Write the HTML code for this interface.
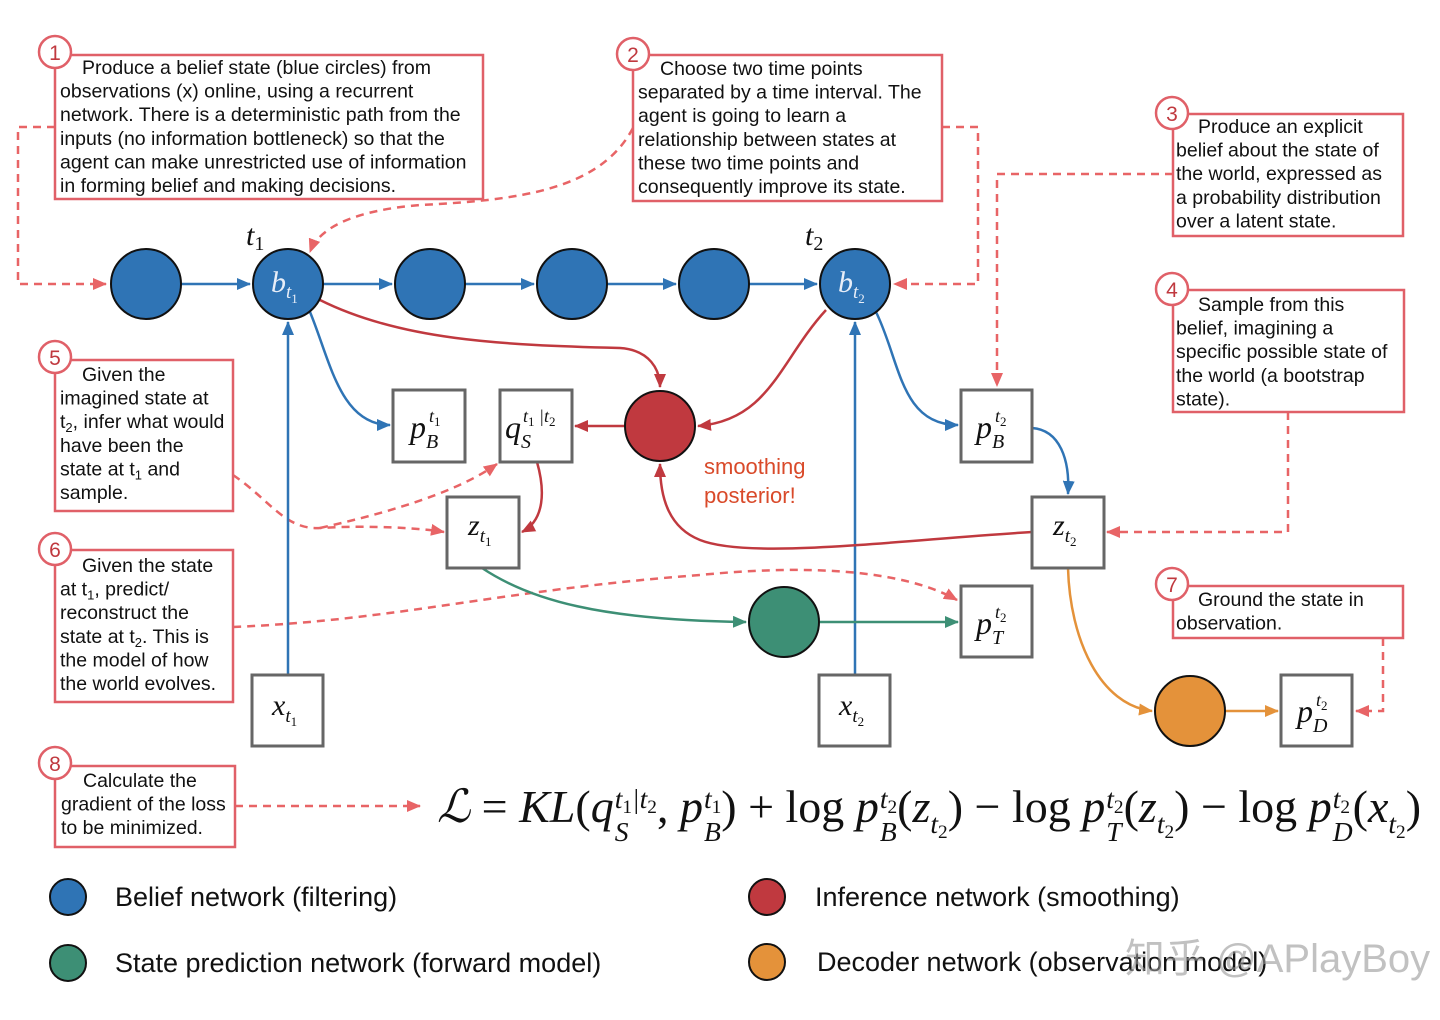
<!DOCTYPE html>
<html><head><meta charset="utf-8"><style>
html,body{margin:0;padding:0;background:#fff;}
#wrap{position:relative;width:1440px;height:1020px;overflow:hidden;background:#fff;}
svg{position:absolute;left:0;top:0;}
.m{position:absolute;font-family:"Liberation Serif",serif;color:#111;white-space:nowrap;line-height:1;}
.i{font-style:italic;}
.ss{display:inline-block;vertical-align:-0.42em;line-height:1.05;text-align:left;font-style:italic;margin-left:1px;}
.ss > span{display:block;font-size:0.6em;}
.sb{font-style:italic;font-size:0.6em;vertical-align:-0.4em;}
.n{display:inline;font-style:normal;font-size:0.7em;vertical-align:-0.25em;}
</style></head><body><div id="wrap">
<svg width="1440" height="1020" viewBox="0 0 1440 1020">
<defs>
<marker id="ar" markerWidth="14" markerHeight="12" refX="13" refY="6" orient="auto" markerUnits="userSpaceOnUse"><path d="M0,0 L14,6 L0,12 z" fill="#c0393f"/></marker>
<marker id="ad" markerWidth="14" markerHeight="12" refX="13" refY="6" orient="auto" markerUnits="userSpaceOnUse"><path d="M0,0 L14,6 L0,12 z" fill="#e86466"/></marker>
<marker id="ag" markerWidth="14" markerHeight="12" refX="13" refY="6" orient="auto" markerUnits="userSpaceOnUse"><path d="M0,0 L14,6 L0,12 z" fill="#3d8f75"/></marker>
<marker id="ao" markerWidth="14" markerHeight="12" refX="13" refY="6" orient="auto" markerUnits="userSpaceOnUse"><path d="M0,0 L14,6 L0,12 z" fill="#e4923a"/></marker>
<marker id="ab2" markerWidth="14" markerHeight="12" refX="13" refY="6" orient="auto" markerUnits="userSpaceOnUse"><path d="M0,0 L14,6 L0,12 z" fill="#2f74b5"/></marker>
</defs>
<g fill="none" stroke-width="2.5">
<g stroke="#e86466" stroke-dasharray="8,6">
<path d="M55,127 H18 V284 H106" marker-end="url(#ad)"/>
<path d="M633,128 C600,190 520,200 420,205 C360,210 320,225 310,252" marker-end="url(#ad)"/>
<path d="M942,127 H978 V284 H894" marker-end="url(#ad)"/>
<path d="M1173,174 H997 V386" marker-end="url(#ad)"/>
<path d="M1288,412 V532 H1107" marker-end="url(#ad)"/>
<path d="M233,475 C270,500 285,530 320,528 C370,525 420,528 444,532" marker-end="url(#ad)"/>
<path d="M320,528 C400,510 460,490 497,464" marker-end="url(#ad)"/>
<path d="M233,627 C400,620 500,590 700,575 C800,565 900,568 957,600" marker-end="url(#ad)"/>
<path d="M1383,638 V711 H1356" marker-end="url(#ad)"/>
<path d="M235,806 H420" marker-end="url(#ad)"/>
</g>
<g stroke="#2f74b5">
<path d="M181,284 H250" marker-end="url(#ab2)"/>
<path d="M323,284 H392" marker-end="url(#ab2)"/>
<path d="M465,284 H534" marker-end="url(#ab2)"/>
<path d="M607,284 H676" marker-end="url(#ab2)"/>
<path d="M749,284 H817" marker-end="url(#ab2)"/>
<path d="M288,675 V322" marker-end="url(#ab2)"/>
<path d="M855,675 V322" marker-end="url(#ab2)"/>
<path d="M310,312 C330,360 340,425 390,425" marker-end="url(#ab2)"/>
<path d="M876,312 C900,360 900,425 958,425" marker-end="url(#ab2)"/>
<path d="M1032,428 C1060,430 1070,460 1068,494" marker-end="url(#ab2)"/>
</g>
<g stroke="#c0393f">
<path d="M320,300 C400,340 500,345 620,348 C650,350 660,370 660,387" marker-end="url(#ar)"/>
<path d="M826,310 C780,360 770,420 698,426" marker-end="url(#ar)"/>
<path d="M625,426 H575" marker-end="url(#ar)"/>
<path d="M537,462 C545,490 545,520 522,532" marker-end="url(#ar)"/>
<path d="M1032,532 C900,540 750,560 700,540 C670,528 660,500 660,464" marker-end="url(#ar)"/>
</g>
<path d="M482,568 C530,600 600,620 746,622" stroke="#3d8f75" marker-end="url(#ag)"/>
<path d="M820,622 H958" stroke="#3d8f75" marker-end="url(#ag)"/>
<path d="M1068,568 C1070,640 1100,705 1152,711" stroke="#e4923a" marker-end="url(#ao)"/>
<path d="M1226,711 H1278" stroke="#e4923a" marker-end="url(#ao)"/>
</g>
<g stroke="#111" stroke-width="2">
<circle cx="146" cy="284" r="35" fill="#2f74b5"/>
<circle cx="288" cy="284" r="35" fill="#2f74b5"/>
<circle cx="430" cy="284" r="35" fill="#2f74b5"/>
<circle cx="572" cy="284" r="35" fill="#2f74b5"/>
<circle cx="714" cy="284" r="35" fill="#2f74b5"/>
<circle cx="855" cy="284" r="35" fill="#2f74b5"/>
<circle cx="660" cy="426" r="35" fill="#c0393f"/>
<circle cx="784" cy="622" r="35" fill="#3d8f75"/>
<circle cx="1190" cy="711" r="35" fill="#e4923a"/>
<circle cx="68" cy="897" r="18" fill="#2f74b5"/>
<circle cx="68" cy="963" r="18" fill="#3d8f75"/>
<circle cx="767" cy="897" r="18" fill="#c0393f"/>
<circle cx="767" cy="962" r="18" fill="#e4923a"/>
</g>
<g fill="#fff" stroke="#666" stroke-width="3">
<rect x="393" y="390" width="72" height="72"/>
<rect x="500" y="390" width="72" height="72"/>
<rect x="447" y="497" width="72" height="71"/>
<rect x="961" y="390" width="71" height="72"/>
<rect x="1032" y="497" width="72" height="71"/>
<rect x="961" y="586" width="71" height="71"/>
<rect x="252" y="675" width="71" height="71"/>
<rect x="819" y="675" width="71" height="71"/>
<rect x="1281" y="675" width="71" height="71"/>
</g>
<g fill="#fff" stroke="#e06068" stroke-width="2.5">
<rect x="55" y="55" width="428" height="144"/>
<rect x="633" y="55" width="309" height="146"/>
<rect x="1173" y="114" width="230" height="122"/>
<rect x="1173" y="290" width="231" height="122"/>
<rect x="55" y="360" width="178" height="151"/>
<rect x="55" y="550" width="178" height="152"/>
<rect x="1173" y="586" width="230" height="52"/>
<rect x="55" y="766" width="180" height="81"/>
<circle cx="55" cy="52" r="16"/><circle cx="633" cy="54" r="16"/><circle cx="1172" cy="113" r="16"/>
<circle cx="1172" cy="289" r="16"/><circle cx="55" cy="357" r="16"/><circle cx="55" cy="549" r="16"/>
<circle cx="1172" cy="584" r="16"/><circle cx="55" cy="763" r="16"/>
</g>
<g font-family="Liberation Sans,sans-serif" font-size="21" fill="#c0393f" text-anchor="middle">
<text x="55" y="60">1</text><text x="633" y="62">2</text><text x="1172" y="121">3</text><text x="1172" y="297">4</text>
<text x="55" y="365">5</text><text x="55" y="557">6</text><text x="1172" y="592">7</text><text x="55" y="771">8</text>
</g>
<g font-family="Liberation Sans,sans-serif" font-size="19.5" fill="#111">
<text x="60" y="74"><tspan x="82">Produce a belief state (blue circles) from</tspan><tspan x="60" dy="23.6">observations (x) online, using a recurrent</tspan><tspan x="60" dy="23.6">network. There is a deterministic path from the</tspan><tspan x="60" dy="23.6">inputs (no information bottleneck) so that the</tspan><tspan x="60" dy="23.6">agent can make unrestricted use of information</tspan><tspan x="60" dy="23.6">in forming belief and making decisions.</tspan></text>
<text y="75"><tspan x="660">Choose two time points</tspan><tspan x="638" dy="23.6">separated by a time interval. The</tspan><tspan x="638" dy="23.6">agent is going to learn a</tspan><tspan x="638" dy="23.6">relationship between states at</tspan><tspan x="638" dy="23.6">these two time points and</tspan><tspan x="638" dy="23.6">consequently improve its state.</tspan></text>
<text y="133"><tspan x="1198">Produce an explicit</tspan><tspan x="1176" dy="23.6">belief about the state of</tspan><tspan x="1176" dy="23.6">the world, expressed as</tspan><tspan x="1176" dy="23.6">a probability distribution</tspan><tspan x="1176" dy="23.6">over a latent state.</tspan></text>
<text y="311"><tspan x="1198">Sample from this</tspan><tspan x="1176" dy="23.6">belief, imagining a</tspan><tspan x="1176" dy="23.6">specific possible state of</tspan><tspan x="1176" dy="23.6">the world (a bootstrap</tspan><tspan x="1176" dy="23.6">state).</tspan></text>
<text y="381"><tspan x="82">Given the</tspan><tspan x="60" dy="23.6">imagined state at</tspan><tspan x="60" dy="23.6">t<tspan font-size="13" dy="4">2</tspan><tspan dy="-4">, infer what would</tspan></tspan><tspan x="60" dy="23.6">have been the</tspan><tspan x="60" dy="23.6">state at t<tspan font-size="13" dy="4">1</tspan><tspan dy="-4"> and</tspan></tspan><tspan x="60" dy="23.6">sample.</tspan></text>
<text y="572"><tspan x="82">Given the state</tspan><tspan x="60" dy="23.6">at t<tspan font-size="13" dy="4">1</tspan><tspan dy="-4">, predict/</tspan></tspan><tspan x="60" dy="23.6">reconstruct the</tspan><tspan x="60" dy="23.6">state at t<tspan font-size="13" dy="4">2</tspan><tspan dy="-4">. This is</tspan></tspan><tspan x="60" dy="23.6">the model of how</tspan><tspan x="60" dy="23.6">the world evolves.</tspan></text>
<text y="606"><tspan x="1198">Ground the state in</tspan><tspan x="1176" dy="23.6">observation.</tspan></text>
<text y="787"><tspan x="83">Calculate the</tspan><tspan x="61" dy="23.6">gradient of the loss</tspan><tspan x="61" dy="23.6">to be minimized.</tspan></text>
<text x="704" y="474" font-size="22" fill="#d94a2a">smoothing</text>
<text x="704" y="503" font-size="22" fill="#d94a2a">posterior!</text>
</g>
<g font-family="Liberation Serif,serif" font-style="italic" fill="#111">
<text x="246" y="245" font-size="30">t<tspan font-size="20" dy="5" font-style="normal">1</tspan></text>
<text x="805" y="245" font-size="30">t<tspan font-size="20" dy="5" font-style="normal">2</tspan></text>
<text x="271" y="292" font-size="30" fill="#e8eef8">b<tspan font-size="19" dy="6">t</tspan><tspan font-size="13" dy="5" font-style="normal">1</tspan></text>
<text x="838" y="292" font-size="30" fill="#e8eef8">b<tspan font-size="19" dy="6">t</tspan><tspan font-size="13" dy="5" font-style="normal">2</tspan></text>
<text x="410" y="438" font-size="32">p<tspan font-size="20" dy="10">B</tspan><tspan font-size="18" x="429" dy="-26">t</tspan><tspan font-size="13" dy="4" font-style="normal">1</tspan></text>
<text x="505" y="438" font-size="32">q<tspan font-size="20" dy="10">S</tspan><tspan font-size="18" x="523" dy="-26">t</tspan><tspan font-size="13" dy="4" font-style="normal">1</tspan><tspan font-size="18" dy="-4"> |t</tspan><tspan font-size="13" dy="4" font-style="normal">2</tspan></text>
<text x="468" y="535" font-size="30">z<tspan font-size="19" dy="7">t</tspan><tspan font-size="13" dy="4" font-style="normal">1</tspan></text>
<text x="976" y="438" font-size="32">p<tspan font-size="20" dy="10">B</tspan><tspan font-size="18" x="995" dy="-26">t</tspan><tspan font-size="13" dy="4" font-style="normal">2</tspan></text>
<text x="1053" y="535" font-size="30">z<tspan font-size="19" dy="7">t</tspan><tspan font-size="13" dy="4" font-style="normal">2</tspan></text>
<text x="976" y="634" font-size="32">p<tspan font-size="20" dy="10">T</tspan><tspan font-size="18" x="995" dy="-26">t</tspan><tspan font-size="13" dy="4" font-style="normal">2</tspan></text>
<text x="272" y="715" font-size="30">x<tspan font-size="19" dy="7">t</tspan><tspan font-size="13" dy="4" font-style="normal">1</tspan></text>
<text x="839" y="715" font-size="30">x<tspan font-size="19" dy="7">t</tspan><tspan font-size="13" dy="4" font-style="normal">2</tspan></text>
<text x="1297" y="722" font-size="32">p<tspan font-size="20" dy="10">D</tspan><tspan font-size="18" x="1316" dy="-26">t</tspan><tspan font-size="13" dy="4" font-style="normal">2</tspan></text>
</g>
<g font-family="Liberation Sans,sans-serif" font-size="27" fill="#111">
<text x="115" y="906">Belief network (filtering)</text>
<text x="115" y="972">State prediction network (forward model)</text>
<text x="815" y="906">Inference network (smoothing)</text>
<text x="817" y="971">Decoder network (observation model)</text>
</g>
<text x="1125" y="972" font-family="Liberation Sans,sans-serif" font-size="40" fill="#999" opacity="0.6">知乎 @APlayBoy</text>
</svg>
<div class="m" style="left:437px;top:784px;font-size:46px;"><span class="i">ℒ</span> = <span class="i">KL</span>(<span class="i">q</span><span class="ss"><span>t<span class="n">1</span>|t<span class="n">2</span></span><span>S</span></span>, <span class="i">p</span><span class="ss"><span>t<span class="n">1</span></span><span>B</span></span>) + log <span class="i">p</span><span class="ss"><span>t<span class="n">2</span></span><span>B</span></span>(<span class="i">z</span><span class="sb">t<span class="n">2</span></span>) − log <span class="i">p</span><span class="ss"><span>t<span class="n">2</span></span><span>T</span></span>(<span class="i">z</span><span class="sb">t<span class="n">2</span></span>) − log <span class="i">p</span><span class="ss"><span>t<span class="n">2</span></span><span>D</span></span>(<span class="i">x</span><span class="sb">t<span class="n">2</span></span>)</div>
</div></body></html>
